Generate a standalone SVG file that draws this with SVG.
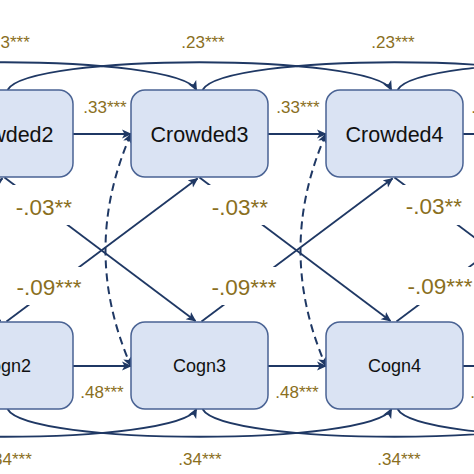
<svg xmlns="http://www.w3.org/2000/svg" width="474" height="474" viewBox="0 0 474 474">
<style>
.node{fill:#dae3f3;stroke:#4a6394;stroke-width:1.5}
.nt{font-family:"Liberation Sans",Arial,sans-serif;fill:#111;text-anchor:middle}
.c{fill:none;stroke:#1f3864;stroke-width:1.8;marker-end:url(#ah)}
.d{fill:none;stroke:#1f3864;stroke-width:2;stroke-dasharray:8 5;marker-end:url(#ah);marker-start:url(#ah)}
.lb{font-family:"Liberation Sans",Arial,sans-serif;fill:#8a6f1e;text-anchor:middle}
.s{font-size:17px}
.b{font-size:22.5px}
.bg{fill:#fff}
</style>
<defs>
<marker id="ah" viewBox="0 0 10 10" refX="9" refY="5" markerWidth="10" markerHeight="10" markerUnits="userSpaceOnUse" orient="auto-start-reverse">
<path d="M0,0.5 L10,5 L0,9.5 L2.5,5 Z" fill="#1f3864"/>
</marker>
</defs>
<rect width="474" height="474" fill="#fff"/>
<g id="connectors">
<path class="c" d="M -187.5,90 C -167.5,53 176.5,53 196.5,90"/>
<path class="c" d="M 7.5,90 C 27.5,53 371.5,53 391.5,90"/>
<path class="c" d="M 202.5,90 C 222.5,53 566.5,53 586.5,90"/>
<path class="c" d="M 397.5,90 C 417.5,53 761.5,53 781.5,90"/>
<path class="c" d="M -187.5,409 C -167.5,446 176.5,446 196.5,409"/>
<path class="c" d="M 7.5,409 C 27.5,446 371.5,446 391.5,409"/>
<path class="c" d="M 202.5,409 C 222.5,446 566.5,446 586.5,409"/>
<path class="c" d="M 397.5,409 C 417.5,446 761.5,446 781.5,409"/>
<path class="c" d="M 73,134 L 131,134"/>
<path class="c" d="M 268,134 L 326,134"/>
<path class="c" d="M 463,134 L 521,134"/>
<path class="c" d="M 73,366 L 131,366"/>
<path class="c" d="M 268,366 L 326,366"/>
<path class="c" d="M 463,366 L 521,366"/>
<path class="c" d="M -190.5,177.5 L 0.5,321"/>
<path class="c" d="M 4.5,177.5 L 195.5,321"/>
<path class="c" d="M 199.5,177.5 L 390.5,321"/>
<path class="c" d="M 394.5,177.5 L 585.5,321"/>
<path class="c" d="M -188.5,321.5 L 2.5,178.5"/>
<path class="c" d="M 6.5,321.5 L 197.5,178.5"/>
<path class="c" d="M 201.5,321.5 L 392.5,178.5"/>
<path class="c" d="M 396.5,321.5 L 587.5,178.5"/>
<path class="d" d="M 131,134 Q 80,250 131,366"/>
<path class="d" d="M 326,134 Q 275,250 326,366"/>
</g>
<g id="label-bg">
<rect class="bg" x="11" y="185" width="66" height="40"/>
<rect class="bg" x="207" y="185" width="66" height="40"/>
<rect class="bg" x="401" y="185" width="66" height="40"/>
<rect class="bg" x="12" y="267" width="74" height="38"/>
<rect class="bg" x="207" y="267" width="74" height="38"/>
<rect class="bg" x="403" y="267" width="74" height="38"/>
</g>
<g id="crowded2"><rect class="node" x="-64" y="90" width="137" height="87" rx="14"/><text class="nt" x="4.5" y="141.5" font-size="21.5">Crowded2</text></g>
<g id="crowded3"><rect class="node" x="131" y="90" width="137" height="87" rx="14"/><text class="nt" x="199.5" y="141.5" font-size="21.5">Crowded3</text></g>
<g id="crowded4"><rect class="node" x="326" y="90" width="137" height="87" rx="14"/><text class="nt" x="394.5" y="141.5" font-size="21.5">Crowded4</text></g>
<g id="cogn2"><rect class="node" x="-64" y="322" width="137" height="87" rx="14"/><text class="nt" x="4.5" y="372" font-size="18">Cogn2</text></g>
<g id="cogn3"><rect class="node" x="131" y="322" width="137" height="87" rx="14"/><text class="nt" x="199.5" y="372" font-size="18">Cogn3</text></g>
<g id="cogn4"><rect class="node" x="326" y="322" width="137" height="87" rx="14"/><text class="nt" x="394.5" y="372" font-size="18">Cogn4</text></g>
<g id="labels">
<text class="lb s" x="8" y="48">.23***</text>
<text class="lb s" x="203" y="48">.23***</text>
<text class="lb s" x="393" y="48">.23***</text>
<text class="lb s" x="105" y="113">.33***</text>
<text class="lb s" x="298" y="113">.33***</text>
<text class="lb s" x="493" y="113">.33***</text>
<text class="lb b" x="44" y="215">-.03**</text>
<text class="lb b" x="240" y="215">-.03**</text>
<text class="lb b" x="434" y="214">-.03**</text>
<text class="lb b" x="49" y="295">-.09***</text>
<text class="lb b" x="244" y="295">-.09***</text>
<text class="lb b" x="440" y="294">-.09***</text>
<text class="lb s" x="102" y="398">.48***</text>
<text class="lb s" x="297" y="398">.48***</text>
<text class="lb s" x="492" y="398">.48***</text>
<text class="lb s" x="10" y="465">.34***</text>
<text class="lb s" x="200" y="465">.34***</text>
<text class="lb s" x="399" y="465">.34***</text>
</g>
</svg>
